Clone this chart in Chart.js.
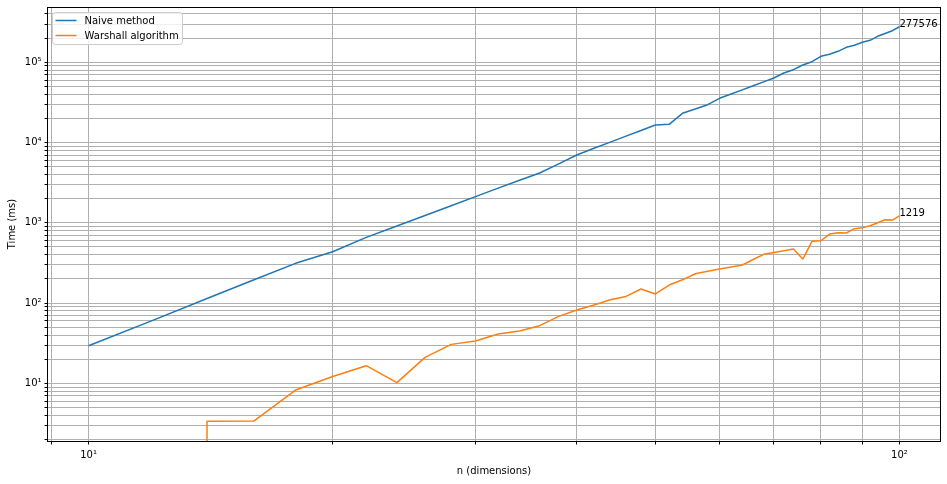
<!DOCTYPE html>
<html>
<head>
<meta charset="utf-8">
<script src="https://cdn.jsdelivr.net/npm/chart.js@4/dist/chart.umd.min.js"></script>
<style>
  html, body { margin: 0; padding: 0; background: #ffffff; }
  #wrap { width: 947px; height: 484px; position: relative; }
</style>
</head>
<body>
<div id="wrap"><canvas id="c"></canvas></div>
<script>
// ---- data ----
const dims = [10, 12, 14, 16, 18, 20, 22, 24, 26, 28, 30, 32, 34, 36, 38, 40, 42, 44, 46, 48,
              50, 52, 54, 56, 58, 60, 62, 64, 66, 68, 70, 72, 74, 76, 78, 80, 82, 84, 86, 88,
              90, 92, 94, 96, 98, 100];
const naiveMs = [29.4, 61, 114, 195, 313, 436, 659, 914, 1236, 1633, 2124, 2705, 3396, 4180, 5420, 7000, 8480, 10140, 12030, 14130,
                 16560, 16880, 23160, 26200, 29650, 35600, 40300, 45400, 51100, 57000, 63700, 73600, 80900, 92600, 101700, 118800, 125900, 137100, 153800, 163000,
                 177600, 188000, 210900, 228500, 247700, 277576];
const warshallMs = [0, 0, 3.37, 3.4, 8.25, 12.2, 16.6, 10.2, 21.1, 30.6, 33.7, 41.1, 44.9, 52.3, 68.4, 81.9, 94.6, 110, 121, 150,
                    130, 168, 195, 232, 249, 266, 281, 298, 349, 405, 428, 449, 472, 354, 588, 598, 725, 753, 747, 845,
                    869, 920, 1003, 1094, 1084, 1219];
const seriesLabels = ['Naive method', 'Warshall algorithm'];
const seriesColors = ['#1f77b4', '#ff7f0e'];
const xMajorTicks = [10, 100];
const xMajorLabels = ['10\u00B9', '10\u00B2'];
const xMinorTicks = [9, 20, 30, 40, 50, 60, 70, 80, 90];
const yMajorTicks = [10, 100, 1000, 10000, 100000];
const yMajorLabels = ['10\u00B9', '10\u00B2', '10\u00B3', '10\u2074', '10\u2075'];
const xTitle = 'n (dimensions)';
const yTitle = 'Time (ms)';

// ---- axis limits like matplotlib's log autoscale (5% margins in log space) ----
function logLimits(lo, hi) {
  const a = Math.log10(lo), b = Math.log10(hi), r = b - a;
  return [Math.pow(10, a - 0.05 * r), Math.pow(10, b + 0.05 * r)];
}
const allPos = naiveMs.concat(warshallMs).filter(v => v > 0);
const [xMin, xMax] = logLimits(Math.min(...dims), Math.max(...dims));
const [yMin, yMax] = logLimits(Math.min(...allPos), Math.max(...allPos));

// minor y ticks 2..9 per decade inside the view
const yTickVals = [];
for (let d = 1; d <= 1e5; d *= 10) {
  for (let m = 1; m <= 9; m++) {
    const v = m * d;
    if (v >= yMin && v <= yMax) yTickVals.push(v);
  }
}
const xTickVals = xMinorTicks.concat(xMajorTicks).sort((a, b) => a - b);

// non-positive values are clipped far below the axis (matplotlib log 'clip' behaviour)
const clipLog = v => (v > 0 ? v : 1e-300);

const FONT = 'DejaVu Sans';
Chart.defaults.font.family = FONT;
Chart.defaults.font.size = 10;
Chart.defaults.color = '#000';

const frameAndNotes = {
  id: 'frameAndNotes',
  afterDatasetsDraw(chart) {
    const ctx = chart.ctx, a = chart.chartArea;
    ctx.save();
    // spines
    ctx.strokeStyle = '#000';
    ctx.lineWidth = 1;
    ctx.strokeRect(a.left - 0.5, a.top + 0.5, a.right - a.left + 1, a.bottom - a.top);
    // end-value annotations
    ctx.font = '10px "' + FONT + '"';
    ctx.fillStyle = '#000';
    ctx.textAlign = 'left';
    ctx.textBaseline = 'alphabetic';
    chart.data.datasets.forEach((ds, i) => {
      const meta = chart.getDatasetMeta(i);
      const last = meta.data[meta.data.length - 1];
      const raw = ds.data[ds.data.length - 1].y;
      ctx.fillText(String(raw), last.x, last.y);
    });
    // legend (matplotlib style, upper left inside axes)
    const bx = a.left + 4.5, by = a.top + 5.5, bw = 130, bh = 32;
    ctx.beginPath();
    ctx.roundRect(bx, by, bw, bh, 3);
    ctx.fillStyle = 'rgba(255,255,255,0.8)';
    ctx.fill();
    ctx.strokeStyle = '#cccccc';
    ctx.lineWidth = 1;
    ctx.stroke();
    ctx.textBaseline = 'middle';
    chart.data.datasets.forEach((ds, i) => {
      const yy = by + 8 + i * 15;
      ctx.beginPath();
      ctx.moveTo(bx + 3, yy);
      ctx.lineTo(bx + 24, yy);
      ctx.strokeStyle = ds.borderColor;
      ctx.lineWidth = 1.5;
      ctx.stroke();
      ctx.fillStyle = '#000';
      ctx.fillText(ds.label, bx + 32, yy + 0.5);
    });
    ctx.restore();
  }
};

new Chart(document.getElementById('c'), {
  type: 'line',
  data: {
    datasets: [
      {
        label: seriesLabels[0],
        data: dims.map((n, i) => ({ x: n, y: naiveMs[i] })),
        borderColor: seriesColors[0],
        backgroundColor: seriesColors[0]
      },
      {
        label: seriesLabels[1],
        data: dims.map((n, i) => ({ x: n, y: clipLog(warshallMs[i]) })),
        borderColor: seriesColors[1],
        backgroundColor: seriesColors[1]
      }
    ]
  },
  options: {
    responsive: true,
    maintainAspectRatio: false,
    animation: false,
    layout: { padding: { left: 0, right: 7, top: 7, bottom: 0 } },
    elements: {
      point: { radius: 0, hoverRadius: 0 },
      line: { borderWidth: 1.5, tension: 0, borderJoinStyle: 'round', borderCapStyle: 'butt' }
    },
    plugins: { legend: { display: false }, tooltip: { enabled: false } },
    scales: {
      x: {
        type: 'logarithmic',
        min: xMin,
        max: xMax,
        afterBuildTicks: s => { s.ticks = xTickVals.map(v => ({ value: v })); },
        afterFit: s => { s.height = 43; s.paddingLeft = 0; s.paddingRight = 0; },
        ticks: {
          autoSkip: false, maxRotation: 0, minRotation: 0, padding: 5, color: '#000',
          font: { size: 10 },
          callback: v => { const k = xMajorTicks.indexOf(v); return k >= 0 ? xMajorLabels[k] : ''; }
        },
        grid: { color: '#b0b0b0', lineWidth: 1, drawTicks: true, tickLength: 3.5, tickColor: '#000', tickWidth: 1 },
        border: { display: false },
        title: { display: true, text: xTitle, color: '#000', font: { size: 10 }, padding: { top: 0, bottom: 7 } }
      },
      y: {
        type: 'logarithmic',
        min: yMin,
        max: yMax,
        afterBuildTicks: s => { s.ticks = yTickVals.map(v => ({ value: v })); },
        afterFit: s => { s.width = 48; s.paddingTop = 0; s.paddingBottom = 0; },
        ticks: {
          autoSkip: false, padding: 3, color: '#000',
          font: { size: 10 },
          callback: v => { const k = yMajorTicks.indexOf(v); return k >= 0 ? yMajorLabels[k] : ''; }
        },
        grid: { color: '#b0b0b0', lineWidth: 1, drawTicks: true, tickLength: 3.5, tickColor: '#000', tickWidth: 1 },
        border: { display: false },
        title: { display: true, text: yTitle, color: '#000', font: { size: 10 }, padding: { top: 6, bottom: 0 } }
      }
    }
  },
  plugins: [frameAndNotes]
});
</script>
</body>
</html>
